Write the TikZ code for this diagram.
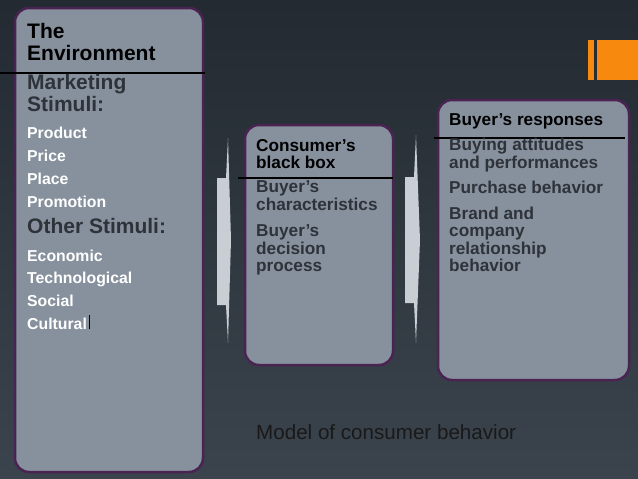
\documentclass[tikz,border=0pt]{standalone}
\usepackage{fontspec}
\setmainfont{Liberation Sans}
\begin{document}
\begin{tikzpicture}[x=1pt,y=-1pt,
  box/.style={draw=boxedge,line width=2.5pt,fill=boxfill,rounded corners=14pt},
  big/.style={anchor=base west,inner sep=0pt,font=\fontsize{21}{20}\selectfont\bfseries},
  wt/.style={anchor=base west,inner sep=0pt,text=white,font=\fontsize{15.8}{15}\selectfont\bfseries},
  mid/.style={anchor=base west,inner sep=0pt,text=darktxt,font=\fontsize{17.2}{17}\selectfont\bfseries},
  sliver/.style={fill=sliverc,draw=none},
  rule/.style={line width=1.3pt,black}]
\definecolor{bgtop}{HTML}{232A31}
\definecolor{bgbot}{HTML}{3B444D}
\definecolor{boxfill}{HTML}{87919E}
\definecolor{boxedge}{HTML}{4A2352}
\definecolor{darktxt}{HTML}{2E3239}
\definecolor{sliverc}{HTML}{C9CDD4}
\definecolor{orng}{HTML}{F7890F}
\useasboundingbox (0,0) rectangle (638,479);
\shade[top color=bgtop,bottom color=bgbot] (0,0) rectangle (638,479);
% orange marks
\fill[orng] (588,40) rectangle (594,80);
\fill[orng] (597,40) rectangle (638,80);
% boxes
\draw[box] (15,8) rectangle (203,472);
\draw[box] (245,125) rectangle (393,365);
\draw[box] (438,100) rectangle (629,380);
% slivers
\fill[sliver] (217,178) -- (226,178) -- (228,138) -- (231,240) -- (228,343) -- (226,305) -- (217,305) -- cycle;
\fill[sliver] (405,177) -- (414,177) -- (416,135) -- (420,240) -- (416,343) -- (414,303) -- (405,303) -- cycle;
% rules
\draw[rule] (0,73) -- (205,73);
\draw[rule] (238,178) -- (393,178);
\draw[rule] (434,138) -- (625,138);
% left text
\node[big] (t1) at (27,38) {The};
\node[big] (t2) at (27,60) {Environment};
\node[big,text=darktxt] (t3) at (27,89) {Marketing};
\node[big,text=darktxt] (t4) at (27,111) {Stimuli:};
\node[wt] (p1) at (27,138) {Product};
\node[wt] (p2) at (27,161) {Price};
\node[wt] (p3) at (27,184) {Place};
\node[wt] (p4) at (27,207) {Promotion};
\node[big,text=darktxt] (t5) at (27,233) {Other Stimuli:};
\node[wt] (e1) at (27,261) {Economic};
\node[wt] (e2) at (27,283) {Technological};
\node[wt] (e3) at (27,306) {Social};
\node[wt] (e4) at (27,329) {Cultural};
\draw[black,line width=1pt] (e4.base east)++(2,0) -- ++(0,-14);
% middle text
\node[mid,text=black] (m1) at (256,151) {Consumer’s};
\node[mid,text=black] (m2) at (256,168) {black box};
\node[mid] (m3) at (256,192) {Buyer’s};
\node[mid] (m4) at (256,210) {characteristics};
\node[mid] (m5) at (256,236) {Buyer’s};
\node[mid] (m6) at (256,254) {decision};
\node[mid] (m7) at (256,271) {process};
% right text
\node[mid,text=black] (r0) at (449,125) {Buyer’s responses};
\node[mid] (r1) at (449,150) {Buying attitudes};
\node[mid] (r2) at (449,168) {and performances};
\node[mid] (r3) at (449,193) {Purchase behavior};
\node[mid] (r4) at (449,219) {Brand and};
\node[mid] (r5) at (449,236) {company};
\node[mid] (r6) at (449,254) {relationship};
\node[mid] (r7) at (449,271) {behavior};
\node[anchor=base west,inner sep=0pt,font=\fontsize{20.6}{20}\selectfont,text=black!90] (cap) at (256,439) {Model of consumer behavior};
\end{tikzpicture}
\end{document}
